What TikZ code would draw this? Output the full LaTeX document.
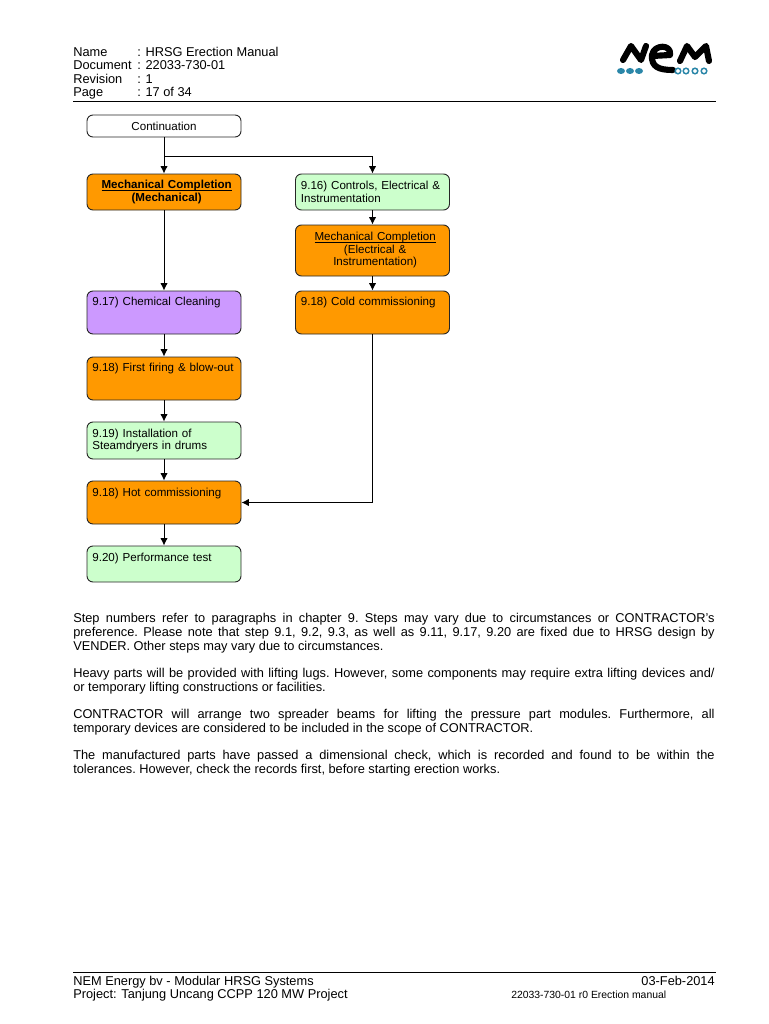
\documentclass[tikz,border=0pt]{standalone}
\usepackage{fontspec}
\setmainfont{Liberation Sans}
\usetikzlibrary{arrows.meta}
\definecolor{stepOrange}{HTML}{FF9900}
\definecolor{stepPurple}{HTML}{CC99FF}
\definecolor{stepGreen}{HTML}{CCFFCC}
\definecolor{logoBlue}{HTML}{2A86A8}
\newcommand{\ulabel}[1]{\vphantom{Ag}\underline{\smash{#1}}}
\tikzset{
    stepbox/.style={draw=black!85, line width=0.7pt, rounded corners=4.5pt, minimum width=115.5pt, text width=107.5pt,
        inner xsep=4pt, inner ysep=0pt, align=left, font=\fontsize{8.7}{9.4}\selectfont},
    toptext/.style={text height=10.5pt, text depth=#1},
    midbox/.style={align=center},
    pagetext/.style={inner sep=0pt, anchor=north west, font=\fontsize{9.6}{10.3}\selectfont},
    conn/.style={->, line width=0.75pt, >={Latex[length=5.5pt, width=5.5pt]}},
    rule/.style={line width=0.7pt},
    logoline/.style={line width=4.6pt, line cap=round, line join=round}
}
\begin{document}
\begin{tikzpicture}[x=0.75pt, y=-0.75pt]
    \useasboundingbox (0, 0) rectangle (768, 1024);
    % Kopfzeile
    \node[pagetext] (head) at (73, 46.5) {\def\arraystretch{0.98}\begin{tabular}{@{}p{48pt}@{}l@{}}
        Name & : HRSG Erection Manual\\
        Document & : 22033-730-01\\
        Revision & : 1\\
        Page & : 17 of 34
    \end{tabular}};
    \draw[rule] (73, 101) -- (716, 101);
    % Logo
    \draw[logoline] (623, 60) -- (631, 46) -- (641, 60) -- (646, 46);
    \draw[logoline] (652, 56) -- (670, 55) .. controls (672, 44) and (654, 44) .. (652, 55)
        .. controls (651, 67) and (659, 70) .. (673, 70);
    \draw[logoline] (680, 61) -- (687, 46) -- (695, 57) -- (706, 46) -- (709, 61);
    \foreach \x in {621, 630, 639}
    {
        \fill[logoBlue] (\x, 71) ellipse (4 and 3);
    }
    \foreach \x in {678, 686, 695, 704}
    {
        \draw[logoBlue, line width=1.1pt] (\x, 71) circle (2.8);
    }
    % Linke Spalte
    \node[stepbox, midbox, minimum height=16.5pt] (cont) at (164, 126) {Continuation};
    \node[stepbox, midbox, fill=stepOrange, minimum height=27pt] (mech) at (164, 192)
        {\hspace*{4pt}\textbf{\ulabel{Mechanical Completion}}\\\hspace*{4pt}\textbf{(Mechanical)}};
    \node[stepbox, fill=stepPurple, toptext=21.75pt] (clean) at (164, 312.5) {9.17) Chemical Cleaning};
    \node[stepbox, fill=stepOrange, toptext=21.75pt] (firing) at (164, 378.5) {9.18) First firing \& blow-out};
    \node[stepbox, fill=stepGreen, minimum height=27.75pt] (dryers) at (164, 440.5) {9.19) Installation of\\Steamdryers in drums};
    \node[stepbox, fill=stepOrange, toptext=21pt, text height=11.25pt] (hot) at (164, 502.5) {9.18) Hot commissioning};
    \node[stepbox, fill=stepGreen, toptext=15.5pt, text height=11.5pt] (perf) at (164, 564) {9.20) Performance test};
    % Rechte Spalte
    \node[stepbox, fill=stepGreen, minimum height=27pt] (ctrl) at (372.5, 192) {9.16) Controls, Electrical \&\\Instrumentation};
    \node[stepbox, midbox, fill=stepOrange, minimum height=38.25pt] (mcei) at (372.5, 250.5)
        {\hspace*{4pt}\ulabel{Mechanical Completion}\\\hspace*{4pt}(Electrical \&\\\hspace*{4pt}Instrumentation)};
    \node[stepbox, fill=stepOrange, toptext=21.75pt] (cold) at (372.5, 312.5) {9.18) Cold commissioning};
    % Pfeile
    \coordinate (fork) at (164, 156);
    \draw[conn] (cont) -- (mech);
    \draw[conn] (fork) -| (ctrl);
    \draw[conn] (mech) -- (clean);
    \draw[conn] (clean) -- (firing);
    \draw[conn] (firing) -- (dryers);
    \draw[conn] (dryers) -- (hot);
    \draw[conn] (hot) -- (perf);
    \draw[conn] (ctrl) -- (mcei);
    \draw[conn] (mcei) -- (cold);
    \draw[conn] (cold) |- (hot);
    % Fliesstext
    \node[pagetext, text width=481pt, align=justify] (body) at (73, 613) {\frenchspacing
        Step numbers refer to paragraphs in chapter 9. Steps may vary due to circumstances or CONTRACTOR's\linebreak
        preference. Please note that step 9.1, 9.2, 9.3, as well as 9.11, 9.17, 9.20 are fixed due to HRSG design by\linebreak
        VENDER. Other steps may vary due to circumstances.\par\vspace{10.3pt}
        Heavy parts will be provided with lifting lugs. However, some components may require extra lifting devices and/\linebreak
        or temporary lifting constructions or facilities.\par\vspace{10.3pt}
        CONTRACTOR will arrange two spreader beams for lifting the pressure part modules. Furthermore, all\linebreak
        temporary devices are considered to be included in the scope of CONTRACTOR.\par\vspace{10.3pt}
        The manufactured parts have passed a dimensional check, which is recorded and found to be within the\linebreak
        tolerances. However, check the records first, before starting erection works.};
    % Fusszeile
    \draw[rule] (73, 972) -- (716, 972);
    \node[pagetext] (foota) at (73, 975.5) {NEM Energy bv - Modular HRSG Systems};
    \node[pagetext, anchor=north east] (date) at (715, 975.5) {03-Feb-2014};
    \node[pagetext] (footb) at (73, 988.5) {Project: Tanjung Uncang CCPP 120 MW Project};
    \node[pagetext, font=\fontsize{7.8}{9}\selectfont] (file) at (511, 991) {22033-730-01 r0 Erection manual};
\end{tikzpicture}
\end{document}
